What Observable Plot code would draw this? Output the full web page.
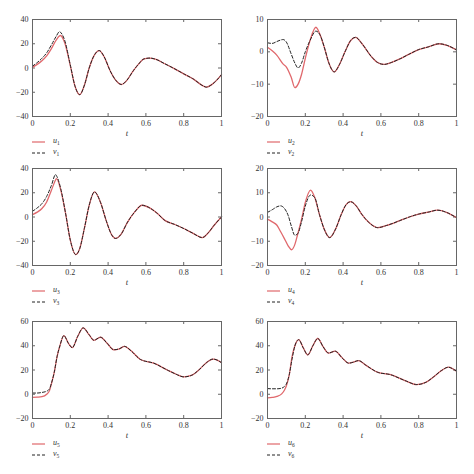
<!DOCTYPE html>
<html>
<head>
<meta charset="utf-8">
<script src="https://cdn.jsdelivr.net/npm/d3@7"></script>
<script src="https://cdn.jsdelivr.net/npm/@observablehq/plot@0.6"></script>
<style>
  html, body { margin: 0; padding: 0; background: #fff; }
  #root { position: relative; width: 474px; height: 474px; overflow: hidden; font-family: "Liberation Serif", "DejaVu Serif", serif; }
  .panel { position: absolute; }
  .legend { position: absolute; font-size: 8px; color: #333; line-height: 10.5px; }
  .legend .row { display: flex; align-items: center; height: 10.5px; }
  .legend svg { margin-right: 8px; }
  .legend sub { font-size: 5.5px; vertical-align: -2px; }
</style>
</head>
<body>
<div id="root"></div>
<script>
// ---- shared axis ticks ----
const xTicks = [0, 0.2, 0.4, 0.6, 0.8, 1];
const xTickLabels = ["0", "0.2", "0.4", "0.6", "0.8", "1"];

// ---- panel 1 ----
const t1 = [0,0.025,0.05,0.075,0.1,0.125,0.143,0.148,0.17,0.2,0.225,0.25,0.275,0.3,0.325,0.353,0.38,0.41,0.44,0.47,0.5,0.53,0.56,0.59,0.62,0.65,0.7,0.75,0.8,0.85,0.9,0.92,0.95,0.975,1];
const u1 = [0.5,3,6,10,16,23,26.5,26.8,21,2,-15,-22,-14,0,10,14.4,9,-2,-10,-13.6,-10,-3,3,7.5,8.2,7.3,3.5,-0.5,-4.8,-9,-14.5,-15.8,-13.5,-10,-5.4];
const v1 = [1.5,4.5,8,12.5,19,26,30,29.5,23,2.5,-15,-22,-14,0,10,14.4,9,-2,-10,-13.6,-10,-3,3,7.5,8.2,7.3,3.5,-0.5,-4.8,-9,-14.5,-15.8,-13.5,-10,-5.4];
const y1Ticks = [-40,-20,0,20,40];
const y1Labels = ["\u221240","\u221220","0","20","40"];

// ---- panel 2 ----
const t2 = [0,0.025,0.05,0.083,0.1,0.125,0.145,0.162,0.18,0.2,0.225,0.256,0.28,0.3,0.325,0.353,0.38,0.41,0.44,0.466,0.5,0.55,0.58,0.617,0.65,0.7,0.75,0.8,0.85,0.908,0.95,1];
const u2 = [1.4,0.3,-1.1,-3.8,-4.7,-7.8,-11.1,-10,-7,-2,3.5,7.6,5,1.5,-3.5,-6.2,-4,0,3.5,4.5,2.5,-1.5,-3.2,-3.9,-3.4,-2.2,-0.7,0.7,1.5,2.5,2,0.6];
const v2 = [2.8,2.6,3.2,3.8,3.0,-0.6,-3.5,-5,-3.5,0,3.5,6.4,5,1.5,-3.5,-6.2,-4,0,3.5,4.5,2.5,-1.5,-3.2,-3.9,-3.4,-2.2,-0.7,0.7,1.5,2.5,2,0.6];
const y2Ticks = [-20,-10,0,10];
const y2Labels = ["\u221220","\u221210","0","10"];

// ---- panel 3 ----
const t3 = [0,0.025,0.05,0.075,0.1,0.122,0.127,0.15,0.175,0.2,0.229,0.25,0.275,0.3,0.328,0.36,0.39,0.42,0.439,0.47,0.5,0.54,0.58,0.62,0.66,0.7,0.75,0.8,0.85,0.898,0.93,0.96,1];
const u3 = [2,4,7,12.4,22,30.5,31.7,22,3,-19,-31,-26,-9,9.7,20.7,12,-3,-15,-17.7,-14,-5,4,9.7,7.5,3,-2.8,-6,-9.5,-13.5,-17,-13,-7,0];
const v3 = [4.7,7.5,11,17,26,35,34,23,3,-19,-31,-26,-9,9.7,20.7,12,-3,-15,-17.7,-14,-5,4,9.7,7.5,3,-2.8,-6,-9.5,-13.5,-17,-13,-7,0];
const y3Ticks = [-40,-20,0,20,40];
const y3Labels = ["\u221240","\u221220","0","20","40"];

// ---- panel 4 ----
const t4 = [0,0.025,0.05,0.069,0.09,0.11,0.127,0.144,0.16,0.18,0.2,0.228,0.25,0.275,0.3,0.329,0.36,0.39,0.415,0.44,0.47,0.5,0.54,0.583,0.63,0.7,0.75,0.8,0.85,0.9,0.95,1];
const u4 = [-0.9,-2,-3.4,-6,-9,-12,-13.5,-11.5,-7,-1,6,11.1,8,1,-5,-8.5,-5,1,5,6.3,4.5,1,-2.5,-4.4,-3.5,-1.5,0,1.2,2,2.8,1.8,-0.3];
const v4 = [1.9,3,4.2,4.6,3.5,0.5,-4,-7.5,-6.9,-2,4.5,9.1,8,1,-5,-8.5,-5,1,5,6.3,4.5,1,-2.5,-4.4,-3.5,-1.5,0,1.2,2,2.8,1.8,-0.3];
const y4Ticks = [-20,-10,0,10,20];
const y4Labels = ["\u221220","\u221210","0","10","20"];

// ---- panel 5 ----
const t5 = [0,0.025,0.05,0.075,0.09,0.1,0.115,0.13,0.145,0.166,0.19,0.21,0.24,0.268,0.3,0.325,0.36,0.395,0.43,0.46,0.487,0.52,0.571,0.642,0.713,0.76,0.8,0.84,0.88,0.92,0.954,0.98,1];
const u5 = [-2.6,-2.4,-2,0,3,8.5,18,31,40,48.4,42,38.4,48,54.7,49,44.5,47,42,36.7,37.5,39.5,36,28.7,25.6,20,16.5,14.3,15.5,20,26,29,28,26];
const v5 = [1,1,1.5,2.5,4.5,9,18,31,40,48.4,42,38.4,48,54.7,49,44.5,47,42,36.7,37.5,39.5,36,28.7,25.6,20,16.5,14.3,15.5,20,26,29,28,26];
const y5Ticks = [-20,0,20,40,60];
const y5Labels = ["\u221220","0","20","40","60"];

// ---- panel 6 ----
const t6 = [0,0.025,0.05,0.075,0.09,0.1,0.115,0.13,0.145,0.165,0.19,0.213,0.24,0.266,0.295,0.323,0.358,0.395,0.43,0.455,0.482,0.52,0.585,0.647,0.727,0.79,0.84,0.88,0.92,0.957,0.98,1];
const u6 = [-3,-2.6,-1.8,0.3,3.5,7,16,31,40,45,38,32.5,40,46,39,34,35.5,30,25.6,26.5,27.8,24,18,16.3,11.3,8,10,14.5,19.5,22.3,21,19];
const v6 = [4.7,4.5,4.5,5,6.5,8.5,16,29,40,45,38,32.5,40,46,39,34,35.5,30,25.6,26.5,27.8,24,18,16.3,11.3,8,10,14.5,19.5,22.3,21,19];
const y6Ticks = [-20,0,20,40,60];
const y6Labels = ["\u221220","0","20","40","60"];

const uColor = "#e0686c";
const vColor = "#222";

const panels = [
  {t: t1, u: u1, v: v1, yT: y1Ticks, yL: y1Labels, n: "1", col: 0, row: 0},
  {t: t2, u: u2, v: v2, yT: y2Ticks, yL: y2Labels, n: "2", col: 1, row: 0},
  {t: t3, u: u3, v: v3, yT: y3Ticks, yL: y3Labels, n: "3", col: 0, row: 1},
  {t: t4, u: u4, v: v4, yT: y4Ticks, yL: y4Labels, n: "4", col: 1, row: 1},
  {t: t5, u: u5, v: v5, yT: y5Ticks, yL: y5Labels, n: "5", col: 0, row: 2},
  {t: t6, u: u6, v: v6, yT: y6Ticks, yL: y6Labels, n: "6", col: 1, row: 2}
];

const rowTops = [0, 149, 302];
const root = document.getElementById("root");
const W = 237, H = 140, mT = 19, mB = 24;
const frameH = H - mT - mB;

for (const p of panels) {
  const mL = p.col === 0 ? 32 : 30;
  const mR = p.col === 0 ? 16 : 18;
  const frameW = W - mL - mR;
  const data = p.t.map((t, i) => ({t, u: p.u[i], v: p.v[i]}));
  const xl = new Map(xTicks.map((d, i) => [d, xTickLabels[i]]));
  const yl = new Map(p.yT.map((d, i) => [d, p.yL[i]]));
  const chart = Plot.plot({
    width: W, height: H,
    marginLeft: mL, marginRight: mR, marginTop: mT, marginBottom: mB,
    x: {domain: [0, 1]},
    y: {domain: [p.yT[0], p.yT[p.yT.length - 1]]},
    style: {fontFamily: "Liberation Serif", fontSize: "8px", color: "#333", background: "transparent"},
    marks: [
      Plot.ruleX(xTicks, {x: d => d, insetTop: frameH - 3, stroke: "#666"}),
      Plot.ruleX(xTicks, {x: d => d, insetBottom: frameH - 3, stroke: "#666"}),
      Plot.ruleY(p.yT, {y: d => d, insetRight: frameW - 3, stroke: "#666"}),
      Plot.ruleY(p.yT, {y: d => d, insetLeft: frameW - 3, stroke: "#666"}),
      Plot.axisX(xTicks, {tickSize: 0, tickPadding: 4, tickFormat: d => xl.get(d), label: null, fontSize: 8}),
      Plot.axisY(p.yT, {tickSize: 0, tickPadding: 4, tickFormat: d => yl.get(d), label: null, fontSize: 8}),
      Plot.line(data, {x: "t", y: "u", stroke: uColor, strokeWidth: 1.3, curve: "monotone-x"}),
      Plot.line(data, {x: "t", y: "v", stroke: vColor, strokeWidth: 1, strokeDasharray: "3,2", curve: "monotone-x"}),
      Plot.frame({stroke: "#666"}),
      Plot.text(["t"], {text: d => d, frameAnchor: "bottom", dy: 19, fontStyle: "italic", fontSize: 8.5})
    ]
  });
  const div = document.createElement("div");
  div.className = "panel";
  div.style.left = (p.col * W) + "px";
  div.style.top = rowTops[p.row] + "px";
  div.appendChild(chart);
  root.appendChild(div);

  const lg = document.createElement("div");
  lg.className = "legend";
  lg.style.left = (p.col * W + mL) + "px";
  lg.style.top = (rowTops[p.row] + 137) + "px";
  lg.innerHTML =
    `<div class="row"><svg width="13" height="4"><line x1="0" y1="2" x2="13" y2="2" stroke="${uColor}" stroke-width="1.2"/></svg><span><i>u</i><sub>${p.n}</sub></span></div>` +
    `<div class="row"><svg width="13" height="4"><line x1="0" y1="2" x2="13" y2="2" stroke="${vColor}" stroke-width="1" stroke-dasharray="3,2"/></svg><span><i>v</i><sub>${p.n}</sub></span></div>`;
  root.appendChild(lg);
}
</script>
</body>
</html>
